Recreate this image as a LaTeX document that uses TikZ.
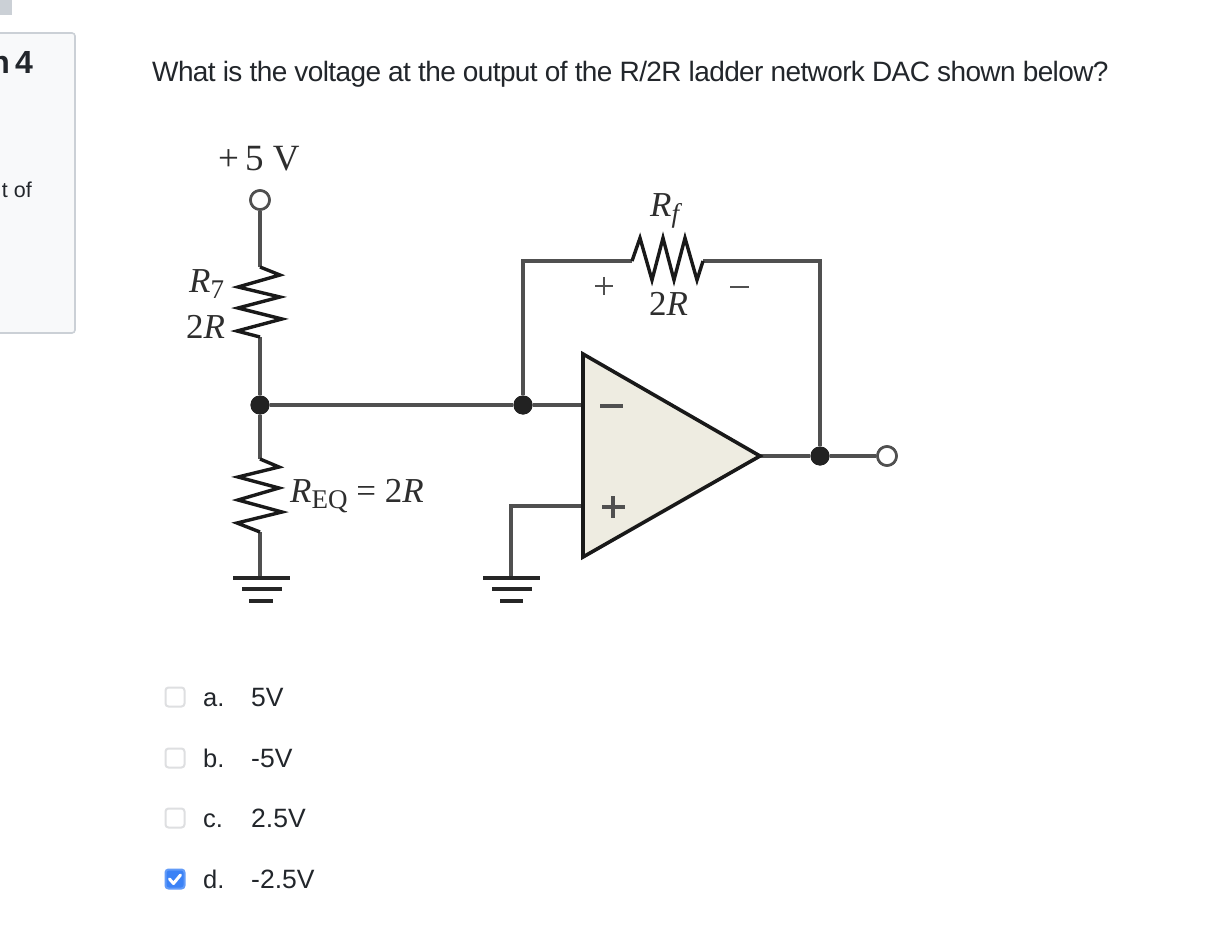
\documentclass[tikz,border=0pt]{standalone}
\usepackage{fontspec}
\setmainfont{Liberation Sans}
\newfontfamily\ser{Liberation Serif}
\newcommand{\ui}[1]{\fontsize{#1}{#1}\selectfont}
\definecolor{wirec}{HTML}{505050}
\definecolor{labc}{HTML}{2E2E2E}
\definecolor{dotc}{HTML}{222222}
\definecolor{qc}{HTML}{22262B}
\definecolor{boxe}{HTML}{DEDFE1}
\definecolor{opfill}{HTML}{EEECE1}
\definecolor{blu}{HTML}{3B82F6}
\definecolor{panelf}{HTML}{F8F9FA}
\definecolor{panele}{HTML}{CBD0D6}
\tikzset{
 wire/.style={draw=wirec,line width=3.1pt},
 zig/.style={draw=black!90,line width=3.4pt,line join=miter},
 dot/.style={circle,fill=dotc,draw=none,minimum size=19pt,inner sep=0pt},
 term/.style={circle,draw=wirec,fill=white,line width=2.6pt,minimum size=19pt,inner sep=0pt},
 gnd/.style={draw=black!85,line width=3.4pt},
 sign/.style={draw=wirec,line width=3.1pt},
 thinsign/.style={draw=wirec,line width=2.4pt},
 ctext/.style={text=labc,inner sep=0pt,anchor=base west,font=\ser\fontsize{35}{35}\selectfont},
 qtext/.style={text=qc,inner sep=0pt,anchor=base west},
 cbox/.style={draw=boxe,fill=white,line width=2pt,rounded corners=3pt,minimum size=19pt,inner sep=0pt},
}
\newcommand{\subsc}[1]{\raisebox{-6pt}{\fontsize{27}{27}\selectfont #1}}
\begin{document}
\begin{tikzpicture}[x=1pt,y=-1pt]
\useasboundingbox (0,0) rectangle (1208,928);
\fill[white] (0,0) rectangle (1208,928);
\clip (0,0) rectangle (1208,928);
% side panel
\fill[panele] (0,0) rectangle (12,15);
\draw[fill=panelf,draw=panele,line width=1.6pt,rounded corners=3pt] (-6,33) rectangle (75,333);
\node[qtext,font=\ui{32}\bfseries,anchor=base east] (qnum) at (33,74) {n\hspace{5pt}4};
\node[qtext,font=\ui{21.5},anchor=base east] (qsub) at (32,198) {t of};
\node[qtext,font=\ui{28}\addfontfeature{LetterSpace=-2.2}] (question) at (152,82) {What is the voltage at the output of the R/2R ladder network DAC shown below?};
% circuit nodes
\node[term] (vin) at (260,200) {};
\node[dot] (n1) at (260,405) {};
\node[dot] (n2) at (523,405) {};
\node[dot] (n3) at (820,456) {};
\node[term] (vout) at (887,456) {};
\coordinate (r7t) at (260,267);
\coordinate (r7b) at (260,337);
\coordinate (rqt) at (260,459);
\coordinate (rqb) at (260,532);
\coordinate (g1) at (260,578);
\coordinate (g2) at (511,578);
\coordinate (rfl) at (632,261);
\coordinate (rfr) at (703,261);
\coordinate (tl) at (523,261);
\coordinate (tr) at (820,261);
\coordinate (inv) at (583,405);
\coordinate (non) at (583,506);
\coordinate (nc) at (511,506);
\coordinate (apex) at (760,456);
% wires
\path[wire] (vin) -- (r7t);
\path[wire] (r7b) -- (n1) -- (rqt);
\path[wire] (rqb) -- (g1);
\path[wire] (n1) -- (n2) -- (inv);
\path[wire,line join=miter] (n2) -- (tl) -- (rfl);
\path[wire,line join=miter] (rfr) -- (tr) -- (n3);
\path[wire] (apex) -- (n3) -- (vout);
\path[wire,line join=miter] (non) -- (nc) -- (g2);
% op amp
\draw[fill=opfill,draw=black!90,line width=3.6pt,line join=miter] (583,354) -- (apex) -- (583,557) -- cycle;
% terminals and junctions on top of the wires
\node[term] at (vin) {};
\node[term] at (vout) {};
\node[dot] at (n1) {};
\node[dot] at (n2) {};
\node[dot] at (n3) {};
% resistors
\path[zig] (r7t) -- (280,275) -- (238,287) -- (280,297) -- (238,308) -- (282,319) -- (237,331) -- (r7b);
\path[zig] (rqt) -- (279,467) -- (238,477) -- (279,488) -- (238,500) -- (282,512) -- (237,523) -- (rqb);
\path[zig] (rfl) -- (640,238) -- (652,280) -- (663,238) -- (674,280) -- (685,238) -- (697,280) -- (rfr);
% grounds
\path[gnd] (233,578) -- (290,578);
\path[gnd] (242,589) -- (282,589);
\path[gnd] (249,601) -- (273,601);
\path[gnd] (483,578) -- (540,578);
\path[gnd] (492,589) -- (532,589);
\path[gnd] (500,601) -- (523,601);
% signs
\path[sign] (600,406) -- (623,406);
\path[sign] (602,507) -- (625,507) (613,496) -- (613,518);
\path[thinsign] (595,286) -- (613,286) (604,277) -- (604,295);
\path[thinsign] (730,287) -- (749,287);
% circuit labels
\node[ctext,font=\ser\fontsize{37}{37}\selectfont] (l5v) at (218,171) {+\,5 V};
\node[ctext] (lr7) at (189,292) {\textit{R}\subsc{7}};
\node[ctext] (l2r) at (186,338) {2\textit{R}};
\node[ctext] (lrf) at (650,217) {\textit{R}\subsc{\textit{f}}};
\node[ctext] (l2rf) at (649,315) {2\textit{R}};
\node[ctext] (lreq) at (290,502) {\textit{R}\subsc{EQ} = 2\textit{R}};
% options
\foreach \yy/\lab/\val in {697/a./5V,758/b./-5V,818/c./2.5V}{
 \node[cbox] at (175,\yy) {};
 \node[qtext,font=\ui{25.5}] at (203,\yy+9) {\lab};
 \node[qtext,font=\ui{26.5}] at (251,\yy+9) {\val};
}
\node[cbox,fill=blu,draw=blu!80] (cd) at (175,879) {};
\draw[white,line width=3pt,line cap=round,line join=round] (169.5,879) -- (173.5,883.5) -- (180.5,875);
\node[qtext,font=\ui{25.5}] (od) at (203,888) {d.};
\node[qtext,font=\ui{26.5}] (vd) at (251,888) {-2.5V};
\end{tikzpicture}
\end{document}
